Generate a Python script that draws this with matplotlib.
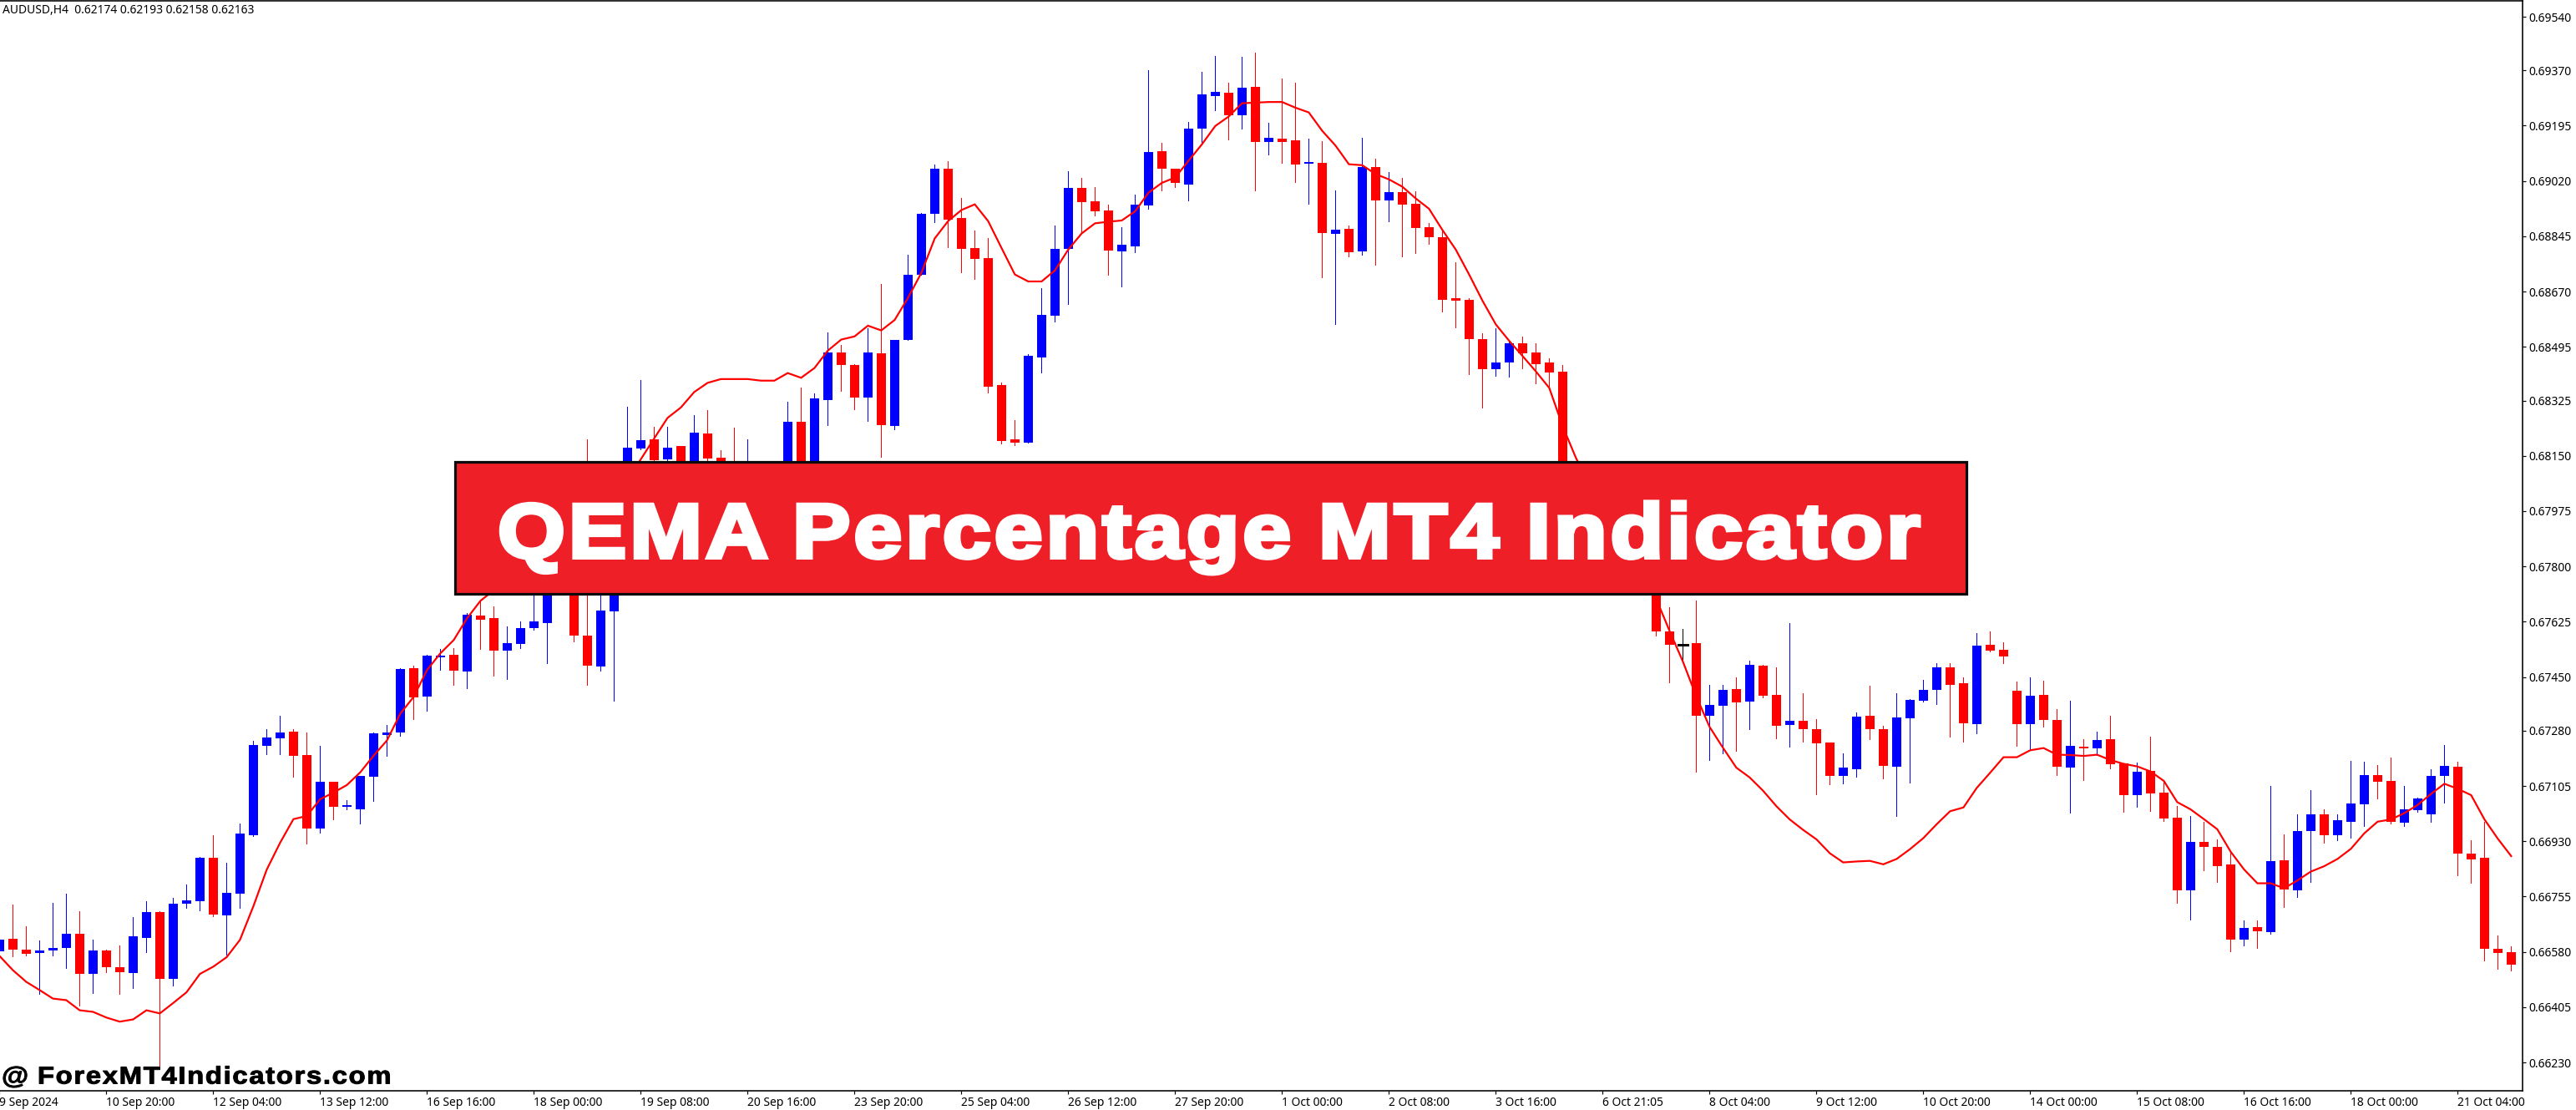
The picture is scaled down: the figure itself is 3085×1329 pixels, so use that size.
import numpy as np
import matplotlib
matplotlib.use("Agg")
import matplotlib.pyplot as plt
from matplotlib.patches import Rectangle
from matplotlib.path import Path
from matplotlib.patheffects import AbstractPathEffect
from matplotlib.transforms import Affine2D

# Prices are in points (1 point = 0.00001)
opens = [
    66582, 66621, 66587, 66576, 66585, 66592, 66637, 66511, 66584, 66531,
    66513, 66624, 66706, 66495, 66733, 66741, 66878, 66696, 66765, 66949,
    67232, 67255, 67276, 67202, 66971, 67118, 67039, 67031, 67134, 67266,
    67275, 67478, 67389, 67513, 67520, 67468, 67644, 67636, 67534, 67555,
    67604, 67621, 67800, 67790, 67581, 67484, 67658, 67900, 68173, 68202,
    68139, 68182, 68040, 68222, 68143, 68080, 68030, 67990, 68110, 68000,
    68259, 68090, 68327, 68477, 68438, 68335, 68474, 68245, 68516, 68722,
    68916, 69058, 68903, 68809, 68777, 68374, 68201, 68193, 68461, 68593,
    68806, 68998, 68956, 68927, 68798, 68814, 68943, 69114, 69058, 69008,
    69185, 69290, 69300, 69229, 69319, 69143, 69153, 69148, 69074, 69077,
    68853, 68869, 68798, 69064, 68958, 68985, 68948, 68874, 68843, 68648,
    68645, 68519, 68424, 68445, 68506, 68477, 68445, 68416, 68000, 67950,
    67890, 67920, 67840, 67800, 67750, 67594, 67553, 67557, 67327, 67359,
    67411, 67372, 67486, 67393, 67298, 67311, 67285, 67242, 67137, 67158,
    67327, 67285, 67166, 67319, 67374, 67409, 67480, 67430, 67300, 67552,
    67536, 67406, 67300, 67393, 67314, 67163, 67229, 67225, 67253, 67176,
    67077, 67153, 67084, 67005, 66775, 66928, 66913, 66857, 66619, 66658,
    66642, 66870, 66775, 66963, 67015, 66950, 66991, 67047, 67139, 67121,
    66988, 67028, 67015, 67137, 67166, 66891, 66878, 66589, 66579,
]
highs = [
    66625, 66729, 66660, 66616, 66734, 66764, 66708, 66619, 66586, 66600,
    66690, 66740, 66708, 66750, 66793, 66880, 66949, 66862, 66986, 67248,
    67285, 67327, 67285, 67274, 67232, 67118, 67060, 67137, 67274, 67298,
    67478, 67487, 67519, 67538, 67542, 67652, 67689, 67673, 67609, 67625,
    67770, 67840, 67860, 67830, 68202, 67740, 67960, 68305, 68389, 68242,
    68242, 68182, 68280, 68295, 68169, 68238, 68203, 68125, 68125, 68321,
    68367, 68347, 68540, 68501, 68441, 68553, 68695, 68516, 68787, 68919,
    69072, 69082, 68966, 68864, 68840, 68382, 68264, 68472, 68682, 68880,
    69051, 69030, 69001, 68945, 68874, 68977, 69372, 69140, 69058, 69206,
    69366, 69416, 69332, 69414, 69427, 69203, 69345, 69332, 69153, 69145,
    68990, 68880, 69156, 69090, 69048, 69030, 68987, 68887, 68865, 68764,
    68648, 68538, 68553, 68514, 68527, 68506, 68459, 68438, 68040, 67990,
    67960, 67960, 67870, 67830, 67780, 67671, 67602, 67692, 67425, 67425,
    67449, 67501, 67488, 67480, 67620, 67398, 67316, 67242, 67208, 67337,
    67422, 67295, 67398, 67380, 67441, 67493, 67493, 67449, 67589, 67594,
    67560, 67435, 67449, 67438, 67348, 67374, 67253, 67277, 67327, 67176,
    67179, 67262, 67124, 67042, 67010, 66991, 66936, 66897, 66679, 66679,
    67105, 66952, 67015, 67092, 67031, 67015, 67185, 67182, 67172, 67195,
    67105, 67068, 67158, 67235, 67182, 66934, 66991, 66632, 66598,
]
lows = [
    66575, 66567, 66569, 66448, 66569, 66529, 66410, 66450, 66515, 66447,
    66465, 66579, 66220, 66474, 66719, 66711, 66692, 66570, 66719, 66947,
    67205, 67205, 67134, 66922, 66957, 67000, 67031, 66986, 67057, 67200,
    67264, 67317, 67343, 67473, 67425, 67414, 67538, 67454, 67443, 67542,
    67599, 67494, 67730, 67563, 67425, 67471, 67376, 67860, 68171, 68132,
    68134, 68000, 68010, 68130, 68040, 67990, 67980, 67960, 67970, 67970,
    68050, 68060, 68246, 68356, 68298, 68261, 68148, 68235, 68516, 68722,
    68890, 68811, 68732, 68711, 68351, 68190, 68185, 68193, 68414, 68574,
    68630, 68856, 68911, 68724, 68685, 68795, 68932, 68990, 69001, 68958,
    69143, 69245, 69151, 69185, 68990, 69103, 69077, 69016, 68948, 68714,
    68566, 68782, 68787, 68756, 68893, 68782, 68793, 68822, 68606, 68556,
    68409, 68303, 68403, 68401, 68427, 68380, 68365, 67960, 67920, 67860,
    67860, 67810, 67770, 67730, 67581, 67433, 67500, 67150, 67187, 67208,
    67216, 67285, 67385, 67255, 67229, 67245, 67078, 67110, 67113, 67134,
    67253, 67129, 67010, 67115, 67372, 67364, 67261, 67245, 67271, 67530,
    67493, 67232, 67221, 67293, 67139, 67020, 67123, 67204, 67160, 67022,
    67040, 67025, 66994, 66735, 66683, 66837, 66801, 66582, 66601, 66592,
    66638, 66722, 66753, 66801, 66926, 66934, 66941, 66978, 67065, 66985,
    66978, 67024, 66991, 67052, 66823, 66799, 66552, 66527, 66521,
]
closes = [
    66619, 66587, 66573, 66583, 66592, 66637, 66511, 66584, 66531, 66515,
    66629, 66706, 66495, 66732, 66743, 66878, 66697, 66766, 66954, 67234,
    67258, 67274, 67200, 66971, 67118, 67040, 67044, 67136, 67271, 67274,
    67475, 67385, 67517, 67517, 67469, 67647, 67631, 67534, 67557, 67604,
    67625, 67790, 67760, 67582, 67487, 67660, 67900, 68176, 68200, 68137,
    68176, 68040, 68224, 68141, 68080, 68030, 68090, 68110, 68000, 68259,
    68090, 68332, 68477, 68438, 68335, 68477, 68248, 68516, 68724, 68916,
    69058, 68898, 68806, 68774, 68369, 68198, 68193, 68466, 68595, 68806,
    68998, 68953, 68924, 68801, 68819, 68945, 69111, 69058, 69014, 69185,
    69293, 69303, 69229, 69316, 69143, 69156, 69143, 69072, 69079, 68856,
    68866, 68795, 69064, 68958, 68985, 68945, 68872, 68843, 68645, 68640,
    68519, 68424, 68445, 68506, 68474, 68440, 68414, 68000, 67950, 67890,
    67920, 67840, 67800, 67750, 67594, 67552, 67553, 67327, 67361, 67409,
    67369, 67488, 67390, 67295, 67311, 67285, 67240, 67137, 67163, 67324,
    67285, 67168, 67322, 67377, 67409, 67480, 67425, 67303, 67549, 67533,
    67515, 67300, 67390, 67314, 67166, 67232, 67225, 67250, 67175, 67077,
    67150, 67080, 67003, 66775, 66928, 66911, 66852, 66619, 66656, 66645,
    66867, 66777, 66963, 67015, 66950, 66997, 67050, 67139, 67118, 66991,
    67031, 67065, 67137, 67169, 66891, 66873, 66589, 66576, 66539,
]
qema = [
    66567, 66522, 66485, 66459, 66432, 66427, 66395, 66390, 66372, 66359,
    66366, 66395, 66385, 66418, 66452, 66510, 66533, 66563, 66618, 66724,
    66840, 66925, 67000, 67010, 67063, 67084, 67108, 67148, 67201, 67249,
    67334, 67387, 67472, 67525, 67567, 67636, 67691, 67725, 67760, 67785,
    67800, 67815, 67842, 67868, 67905, 67948, 68005, 68072, 68139, 68205,
    68270, 68303, 68352, 68381, 68393, 68393, 68393, 68388, 68388, 68412,
    68397, 68428, 68483, 68518, 68528, 68562, 68547, 68580, 68650, 68729,
    68838, 68893, 68928, 68946, 68893, 68808, 68724, 68702, 68702, 68737,
    68803, 68854, 68886, 68891, 68895, 68924, 68983, 69014, 69031, 69084,
    69136, 69194, 69224, 69266, 69268, 69270, 69270, 69252, 69237, 69179,
    69132, 69073, 69070, 69042, 69025, 69002, 68965, 68932, 68865, 68803,
    68724, 68641, 68566, 68514, 68466, 68417, 68365, 68244, 68143, 68060,
    67980, 67900, 67840, 67770, 67698, 67596, 67499, 67389, 67292, 67226,
    67163, 67132, 67090, 67041, 66999, 66966, 66936, 66892, 66863, 66866,
    66868, 66857, 66874, 66905, 66940, 66984, 67025, 67037, 67099, 67147,
    67196, 67196, 67218, 67225, 67204, 67203, 67200, 67204, 67187, 67175,
    67167, 67151, 67121, 67054, 67031, 67000, 66968, 66897, 66841, 66797,
    66797, 66781, 66806, 66834, 66851, 66874, 66906, 66955, 66992, 66999,
    67019, 67045, 67080, 67112, 67096, 67076, 66999, 66938, 66883,
]
price_ticks = [0.69540, 0.69370, 0.69195, 0.69020, 0.68845, 0.68670, 0.68495,
               0.68325, 0.68150, 0.67975, 0.67800, 0.67625, 0.67450, 0.67280,
               0.67105, 0.66930, 0.66755, 0.66580, 0.66405, 0.66230]
date_labels = ["9 Sep 2024", "10 Sep 20:00", "12 Sep 04:00", "13 Sep 12:00",
               "16 Sep 16:00", "18 Sep 00:00", "19 Sep 08:00", "20 Sep 16:00",
               "23 Sep 20:00", "25 Sep 04:00", "26 Sep 12:00", "27 Sep 20:00",
               "1 Oct 00:00", "2 Oct 08:00", "3 Oct 16:00", "6 Oct 21:05",
               "8 Oct 04:00", "9 Oct 12:00", "10 Oct 20:00", "14 Oct 00:00",
               "15 Oct 08:00", "16 Oct 16:00", "18 Oct 00:00", "21 Oct 04:00"]
header = "AUDUSD,H4  0.62174 0.62193 0.62158 0.62163"
banner_text = "QEMA Percentage MT4 Indicator"
watermark_text = "@ ForexMT4Indicators.com"

W, H = 3085, 1329
UP, DOWN, DOJI = "#0000FF", "#FF0000", "#000000"
PX = 72 / 100  # points per pixel


class HeavyWideText(AbstractPathEffect):
    """Draws a text path widened, emboldened and with extra pixels between glyphs."""

    def __init__(self, gap_px, stretch, stroke_px):
        super().__init__()
        self.gap_px = gap_px
        self.stretch = stretch
        self.stroke_px = stroke_px

    def draw_path(self, renderer, gc, tpath, affine, rgbFace=None):
        verts = tpath.vertices.copy()
        codes = tpath.codes
        starts = np.flatnonzero(codes == Path.MOVETO)
        ends = np.append(starts[1:], len(codes))
        spans = []
        for s, e in zip(starts, ends):
            xs = verts[s:e, 0][codes[s:e] != Path.CLOSEPOLY]
            spans.append((xs.min(), xs.max(), s, e))
        spans.sort()
        step = self.gap_px / affine.get_matrix()[0, 0]
        index, right = -1, -np.inf
        shifts = []
        for x0, x1, s, e in spans:
            if x0 >= right:
                index += 1
            right = max(right, x1)
            shifts.append((s, e, index * step))
        verts[:, 0] *= self.stretch
        for s, e, dx in shifts:
            verts[s:e, 0] += dx
        gc0 = renderer.new_gc()
        gc0.copy_properties(gc)
        gc0.set_linewidth(self.stroke_px * PX)
        gc0.set_foreground(rgbFace[:3])
        gc0.set_joinstyle("miter")
        renderer.draw_path(gc0, Path(verts, codes), affine, rgbFace)
        gc0.restore()


fig = plt.figure(figsize=(W / 100, H / 100), dpi=100, facecolor="white")
# chart frame in pixels: left -1, right 3021, top 1, bottom 1306
ax = fig.add_axes([-1 / W, (H - 1306) / H, 3022 / W, 1305 / H])
ax.set_facecolor("white")
BAR_PX, Y0_PX, PX_PER_PRICE = 16.0, 20.0, 37825.0
ax.set_xlim((-1 + 0.6) / BAR_PX, (3021 + 0.6) / BAR_PX)
ax.set_ylim(price_ticks[0] - (1306 - Y0_PX) / PX_PER_PRICE,
            price_ticks[0] + (Y0_PX - 1) / PX_PER_PRICE)

o, h, l, c = (np.array(a) / 1e5 for a in (opens, highs, lows, closes))
k = np.arange(len(o))
colors = [UP if ci > oi else DOWN if ci < oi else DOJI for oi, ci in zip(o, c)]

ax.vlines(k, l, h, colors=colors, linewidth=1.0 * PX, antialiased=False, zorder=2)
body = np.abs(c - o)
ax.bar(k, body, bottom=np.minimum(o, c), width=11 / BAR_PX, color=colors,
       linewidth=0, antialiased=False, zorder=3)
# thin bodies (dojis) stay visible as a horizontal dash
thin = body < 3e-5
ax.hlines(((o + c) / 2)[thin], k[thin] - 6.5 / BAR_PX, k[thin] + 6.5 / BAR_PX,
          colors=[x for x, t in zip(colors, thin) if t], linewidth=1.3 * PX,
          antialiased=False, zorder=3)
ax.plot(k, np.array(qema) / 1e5, color=DOWN, linewidth=2.2 * PX, zorder=4,
        solid_joinstyle="miter")

for s in ("left",):
    ax.spines[s].set_visible(False)
for s in ("right", "bottom", "top"):
    ax.spines[s].set_linewidth(1.6 * PX)
    ax.spines[s].set_color("black")

ax.yaxis.tick_right()
ax.set_yticks(price_ticks)
ax.set_yticklabels([f"{p:.5f}" for p in price_ticks])
ax.set_xticks(np.arange(len(date_labels)) * 8)
ax.set_xticklabels(date_labels, ha="left")
ax.tick_params(axis="y", length=4 * PX, width=1.2 * PX, pad=3 * PX,
               labelsize=10, labelcolor="black")
ax.tick_params(axis="x", length=4 * PX, width=1.2 * PX, pad=3 * PX,
               labelsize=10, labelcolor="black")
for t in ax.get_xticklabels() + ax.get_yticklabels():
    t.set_family("Noto Sans")

# pixel transform with origin at the top left of the picture
px = Affine2D().scale(1, -1).translate(0, H)

fig.text(3, 12, header, transform=px, family="Noto Sans", fontsize=10,
         ha="left", va="center", color="black", zorder=8)

wm = fig.text(2, 1297.5, watermark_text, transform=px, family="Liberation Sans",
              weight="bold", fontsize=21, ha="left", va="baseline",
              color="black", zorder=8)
wm.set_path_effects([HeavyWideText(1.6, 1.13, 1.0)])

fig.add_artist(Rectangle((545, 553), 1810, 158, transform=px, facecolor="#EE1F27",
                         edgecolor="#0A0A0A", linewidth=3.2 * PX, zorder=9))
bt = fig.text(596, 667.5, banner_text, transform=px, family="Liberation Sans",
              weight="bold", fontsize=66.2, ha="left", va="baseline",
              color="white", zorder=10)
bt.set_path_effects([HeavyWideText(4.1, 1.13, 5.0)])

fig.savefig("out.png", dpi=100, facecolor="white")
